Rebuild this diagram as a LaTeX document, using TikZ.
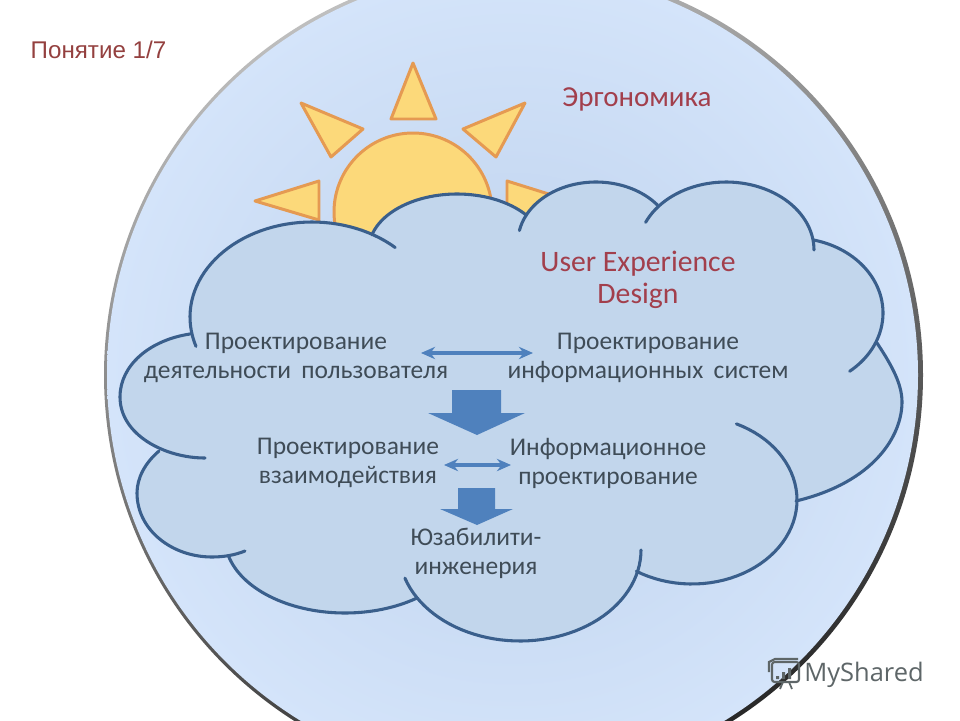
\documentclass[tikz,border=0pt]{standalone}
\usepackage{fontspec}
\setmainfont[WordSpace=1.8]{Carlito}
\newfontfamily\headfont{Carlito}
\newfontfamily\arialfont{Liberation Sans}
\newfontfamily\markfont{Open Sans}
\usetikzlibrary{arrows.meta}
\definecolor{cloudline}{HTML}{3A5F8C}
\definecolor{cloudfill}{HTML}{C2D6EC}
\definecolor{sunfill}{HTML}{FCD97A}
\definecolor{sunline}{HTML}{E59A52}
\definecolor{arrowblue}{HTML}{4F81BD}
\definecolor{maintext}{HTML}{3F4C57}
\definecolor{titletext}{HTML}{A23F4C}
\definecolor{notetext}{HTML}{94403F}
\definecolor{marktext}{HTML}{5E6668}
\definecolor{globein}{HTML}{BDD1EC}
\definecolor{globeout}{HTML}{D4E4FA}
% elliptical lobe: prefix, cx cy rx ry from to (pixel coordinates, angle clockwise on screen)
\newcommand\arcpart[7]{#1 plot[domain=#6:#7,samples=50,variable=\t] ({#2+#4*cos(\t)},{#3+#5*sin(\t)})}
\def\lobeK#1{#1 (205,458) .. controls (165,458) and (120,435) .. (120,397) .. controls (120,365) and (150,340) .. (190,334)}
\def\lobeA#1{\arcpart{#1}{312}{317}{122}{95}{162}{313}}
\def\lobeB#1{\arcpart{#1}{457}{249}{88}{55}{195}{322}}
\def\lobeC#1{\arcpart{#1}{596}{242}{78}{60}{191}{322}}
\def\lobeD#1{\arcpart{#1}{726}{250}{88}{68}{204}{360}}
\def\lobeE#1{\arcpart{#1}{793}{313}{90}{75}{283}{411}}
\def\lobeF#1{#1 (877,343) .. controls (893,367) and (902,385) .. (902,402) .. controls (902,435) and (875,482) .. (796,501)}
\def\lobeG#1{\arcpart{#1}{692}{500}{105}{84}{295}{482}}
\def\lobeH#1{\arcpart{#1}{520}{550}{121}{91}{0}{162}}
\def\lobeI#1{\arcpart{#1}{345}{538}{120}{75}{53}{166}}
\def\lobeJ#1{#1 (245,551) .. controls (235,555) and (224,557) .. (212,557) .. controls (172,557) and (137,530) .. (137,493) .. controls (137,478) and (145,463) .. (159,451)}
\tikzset{
  lobe/.style={draw=cloudline,line width=1.75pt,line cap=round,line join=round},
  ray/.style={fill=sunfill,draw=sunline,line width=1.7pt,line join=round},
  body/.style={font=\fontsize{14.5}{16.5}\selectfont,text=maintext,align=center,inner sep=0pt},
  heading/.style={font=\headfont\fontsize{16.9}{18.1}\selectfont,text=titletext,align=center,inner sep=0pt},
  twoway/.style={draw=arrowblue,line width=1.9pt,{Stealth[length=8pt,width=7pt]}-{Stealth[length=8pt,width=7pt]}},
  block/.style={fill=arrowblue}
}
\begin{document}
\begin{tikzpicture}[x=0.02cm,y=-0.02cm]
\useasboundingbox (0,0) rectangle (960,720);
\fill[white] (0,0) rectangle (960,720);
\begin{scope}
\clip (0,0) rectangle (960,720);
% globe
\shade[left color=gray!50,right color=black!85,shading angle=20] (513.5,375) circle[radius=409.5];
\shade[inner color=globein,outer color=globeout] (512.5,375) circle[radius=405.5];
% sun
\draw[ray] (413,212) circle[radius=79];
\draw[ray] (413,63) -- (391,119) -- (436,119) -- cycle;
\draw[ray] (301,103) -- (363,129) -- (331,157) -- cycle;
\draw[ray] (525,103) -- (463,129) -- (496,157) -- cycle;
\draw[ray] (255,201) -- (319,181) -- (319,220) -- cycle;
\draw[ray] (571,201) -- (507,181) -- (507,220) -- cycle;
% cloud
\fill[cloudfill] \lobeK{} \lobeA{--} \lobeB{--} \lobeC{--} \lobeD{--} \lobeE{--} \lobeF{--} \lobeG{--} \lobeH{--} \lobeI{--} \lobeJ{--} -- cycle;
\draw[lobe] \lobeK{};
\draw[lobe] \lobeA{};
\draw[lobe] \lobeB{};
\draw[lobe] \lobeC{};
\draw[lobe] \lobeD{};
\draw[lobe] \lobeE{};
\draw[lobe] \lobeF{};
\draw[lobe] \lobeG{};
\draw[lobe] \lobeH{};
\draw[lobe] \lobeI{};
\draw[lobe] \lobeJ{};
\end{scope}
% arrows
\fill[block] (452,390) -- (501,390) -- (501,413) -- (525,413) -- (477,435) -- (428,413) -- (452,413) -- cycle;
\fill[block] (458,488) -- (495,488) -- (495,509) -- (513,509) -- (477,525) -- (440,509) -- (458,509) -- cycle;
\coordinate (a1l) at (421,353); \coordinate (a1r) at (533,353);
\coordinate (a2l) at (444,465); \coordinate (a2r) at (511,465);
\draw[twoway] (a1l) -- (a1r);
\draw[twoway] (a2l) -- (a2r);
% text
\node[body] (act) at (296,358) {Проектирование\\деятельности пользователя};
\node[body] (sys) at (648,358) {Проектирование\\информационных систем};
\node[body] (inter) at (348,463) {Проектирование\\взаимодействия};
\node[body] (info) at (608,463) {Информационное\\проектирование};
\node[body] (usab) at (476,553) {Юзабилити-\\инженерия};
\node[heading] (ux) at (638,280) {User Experience\\Design};
\node[heading,font=\headfont\fontsize{16.5}{18.1}\selectfont] (erg) at (637,99) {Эргономика};
\node[font=\arialfont\fontsize{13.75}{15}\selectfont,text=notetext,inner sep=0pt] (note) at (98.5,50) {Понятие 1/7};
% watermark
\draw[marktext,line width=1.2pt,rounded corners=1.5pt] (772,662) rectangle (799,682);
\draw[marktext,line width=1.2pt] (769,672) -- (769,662) -- (775,659) -- (798,659);
\fill[marktext] (776,676) rectangle +(3,3) (782,672) rectangle +(3,7) (788,668) rectangle +(3,11);
\draw[marktext,line width=1pt] (783,682) -- (780,689) (789,682) -- (792,689);
\node[font=\markfont\fontsize{14.5}{15}\selectfont,text=marktext,inner sep=0pt] (brand) at (864,675) {MyShared};
\end{tikzpicture}
\end{document}
